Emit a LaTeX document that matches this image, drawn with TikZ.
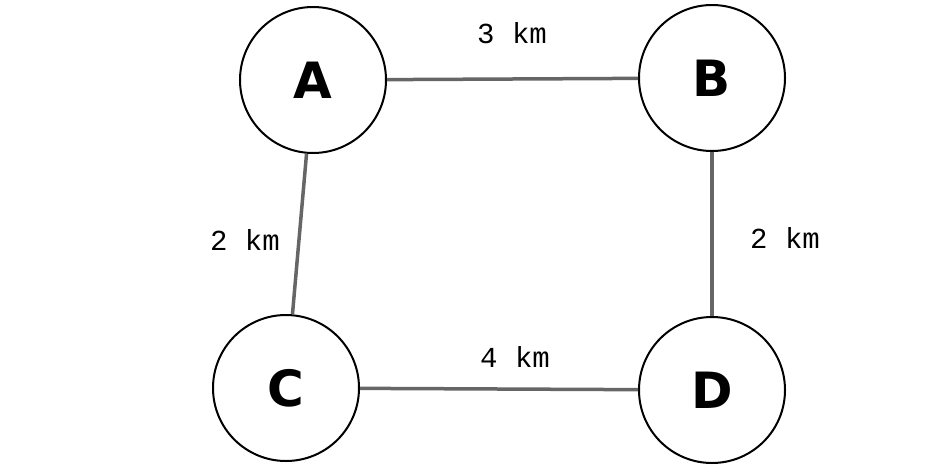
\documentclass[tikz,border=0pt]{standalone}
\usepackage{fontspec}
\newfontfamily\lettf{DejaVu Sans Bold}
\newfontfamily\monof{Liberation Mono}
\begin{document}
\begin{tikzpicture}[x=1pt,y=-1pt,
  city/.style={circle,draw=black,line width=2pt,minimum size=146pt,inner sep=0pt,font=\lettf\fontsize{50}{50}\selectfont},
  road/.style={draw=black!60,line width=3.5pt},
  lbl/.style={font=\monof\fontsize{29}{29}\selectfont}]
\useasboundingbox (0,0) rectangle (928,474);
\node[city] (A) at (313,80) {A};
\node[city] (B) at (712,78) {B};
\node[city] (C) at (286,388) {C};
\node[city] (D) at (712,390) {D};
\draw[road] (A) -- (B);
\draw[road] (A) -- (C);
\draw[road] (B) -- (D);
\draw[road] (C) -- (D);
\node[lbl] (l1) at (512,33) {3 km};
\node[lbl] (l2) at (245,240) {2 km};
\node[lbl] (l3) at (785,238) {2 km};
\node[lbl] (l4) at (515,357) {4 km};
\end{tikzpicture}
\end{document}
